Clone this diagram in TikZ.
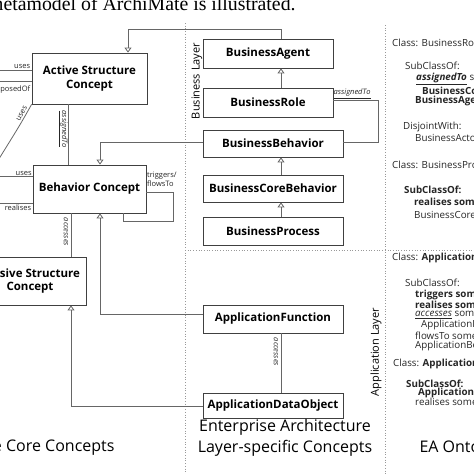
\documentclass[tikz,border=0pt]{standalone}
\usepackage{fontspec}
\setmainfont{Open Sans}
\newfontfamily\timesfont{Liberation Serif}
\usetikzlibrary{arrows.meta,calc}
\begin{document}
\begin{tikzpicture}[x=1pt,y=-1pt,
  box/.style={draw=black!75, line width=0.8pt, fill=white, inner sep=0pt, align=center,
    font=\fontsize{11.5}{13.5}\selectfont\bfseries},
  conn/.style={draw=black!60, line width=0.8pt},
  gen/.style={conn, -{Triangle[open,width=7pt,length=5pt]}},
  lbl/.style={font=\fontsize{7.5}{8.5}\selectfont, inner sep=1pt, text=black!85},
  sep/.style={draw=black!40, dotted, line width=0.7pt},
  layer/.style={font=\fontsize{11}{12}\selectfont, rotate=90},
  captxt/.style={font=\fontsize{16}{21}\selectfont, align=center},
  owl/.style={font=\fontsize{9.8}{10}\selectfont, anchor=west, inner sep=0pt, text=black!85}]
\useasboundingbox (0,0) rectangle (474,474);
\clip (0,0) rectangle (474,474);

% top caption
\node[font=\timesfont\fontsize{19.8}{20}\selectfont, anchor=base west, inner sep=0pt] (topcap) at (-12,10.2) {metamodel of ArchiMate is illustrated.};

% separators
\draw[sep] (185,23) -- (185,474);
\draw[sep] (385,25) -- (385,474);
\draw[sep] (185,250) -- (474,250);

% core concept boxes
\node[box, minimum width=115, minimum height=51] (AS) at (89.5,78.5) {Active Structure\\Concept};
\node[box, minimum width=113, minimum height=48] (BC) at (89.5,189) {Behavior Concept};
\node[box, minimum width=112, minimum height=48] (PS) at (30,281) {Passive Structure\\Concept};

% layer-specific boxes
\node[box, minimum width=130, minimum height=29] (BA) at (268,53.5) {BusinessAgent};
\node[box, minimum width=130, minimum height=29] (BR) at (268,102.5) {BusinessRole};
\node[box, minimum width=140, minimum height=27] (BB) at (273,143.5) {BusinessBehavior};
\node[box, minimum width=140, minimum height=27] (BCB) at (273,188.5) {BusinessCoreBehavior};
\node[box, minimum width=140, minimum height=28] (BP) at (273,231) {BusinessProcess};
\node[box, minimum width=140, minimum height=28] (AF) at (273,319) {ApplicationFunction};
\node[box, minimum width=140, minimum height=25] (ADO) at (273,405.5) {ApplicationDataObject};

% helper coordinates
\coordinate (xa) at (281,0);
\coordinate (xas) at (128,29);
\coordinate (xbc) at (100,0);
\coordinate (xps) at (71,0);
\coordinate (xat) at (68,0);
\coordinate (rr) at (378,100);
\coordinate (lp) at (123,221);
\coordinate (lq) at (173,192);

% generalisations
\draw[gen] (BA.north -| xa) |- (xas) -- (AS.north -| xas);
\draw[gen] (BR.north -| xa) -- (BA.south -| xa);
\draw[gen] (BCB.north -| xa) -- (BB.south -| xa);
\draw[gen] (BP.north -| xa) -- (BCB.south -| xa);
\draw[gen] (BB.west |- 0,142) -| (BC.north -| xbc);
\draw[gen] (AF.west |- 0,314) -| (BC.south -| xbc);
\draw[gen] (ADO.west |- 0,406) -| (PS.south -| xps);

% associations
\draw[conn] (BR.east |- rr) -- (rr) |- (BB.east |- 0,142);
\node[lbl, anchor=south west, inner sep=0.5pt] (l1) at (333,99) {\underline{\textit{assignedTo}}};
\draw[conn] (AF.south -| xa) -- (ADO.north -| xa);
\node[lbl, rotate=-90] (l2) at (276,352) {\textit{accesses}};
\draw[conn] (AS.south -| xat) -- (BC.north -| xat);
\node[lbl, rotate=-90] (l3) at (63,129) {\underline{\textit{assignedTo}}};
\draw[conn] (BC.south -| xps) -- (PS.north -| xps);
\node[lbl, rotate=-90] (l4) at (66,232) {\textit{accesses}};

% self loop
\draw[conn] (BC.east |- lq) -- (lq) |- (lp) -- (BC.south -| lp);
\node[lbl, anchor=north west, align=left, inner sep=0pt] (l5) at (147,172) {triggers/\\flowsTo};

% left stubs
\coordinate (s1) at (-2,70);
\coordinate (s2) at (-2,81);
\coordinate (s3) at (-2,176);
\coordinate (s4) at (-2,203);
\coordinate (s5) at (-3,162);
\draw[conn] (s1) -- (AS.west |- s1) node[lbl, pos=1, anchor=south east] {uses};
\draw[conn] (s2) -- (AS.west |- s2) node[lbl, pos=1, anchor=north east, yshift=-3pt] {composedOf};
\draw[conn] (AS.south west) .. controls (20,125) .. (s5) node[lbl, pos=0.22, sloped, above, inner sep=1.5pt] {uses};
\draw[conn] (s3) -- (BC.west |- s3) node[lbl, pos=1, anchor=south east, inner sep=0.5pt] {uses};
\draw[conn] (s4) -- (BC.west |- s4) node[lbl, pos=1, anchor=north east] {realises};

% layer labels
\node[layer] (lay1) at (197,81) {Business Layer};
\node[layer] (lay2) at (376,352) {Application Layer};

% captions
\node[captxt, anchor=east] (c1) at (118,447) {ArchiMate Core Concepts};
\node[captxt] (c2) at (285,437.5) {Enterprise Architecture\\Layer-specific Concepts};
\node[captxt, anchor=west] (c3) at (416,448) {EA Ontology};

% ontology text
\node[owl] (o1) at (392,43) {Class: BusinessRole};
\node[owl] (o2) at (405,66) {SubClassOf:};
\node[owl] (o3) at (416,79) {\textbf{\underline{\textit{assignedTo}}} some};
\node[owl] (o4) at (422,90.5) {\textbf{BusinessCoreBehavior}};
\node[owl] (o5) at (415,101) {\textbf{BusinessAgent}};
\node[owl] (o6) at (403,127) {DisjointWith:};
\node[owl] (o7) at (415,138) {BusinessActor};

\node[owl] (o8) at (392,165) {Class: BusinessProcess};
\node[owl] (o9) at (404,190) {\textbf{SubClassOf:}};
\node[owl] (o10) at (414,202) {\textbf{realises some}};
\node[owl] (o11) at (414,215) {BusinessCoreBehavior};

\node[owl] (o12) at (392,258) {Class: \textbf{ApplicationFunction}};
\node[owl] (o13) at (405,283) {SubClassOf:};
\node[owl] (o14) at (415,295) {\textbf{triggers some}};
\node[owl] (o15) at (415,305) {\textbf{realises some}};
\node[owl] (o16) at (415,315) {\underline{\textit{accesses}} some};
\node[owl] (o17) at (421,325) {ApplicationDataObject};
\node[owl] (o18) at (415,336) {flowsTo some};
\node[owl] (o19) at (415,346) {ApplicationBehavior};

\node[owl] (o20) at (393,364) {Class: \textbf{ApplicationDataObject}};
\node[owl] (o21) at (406,384) {\textbf{SubClassOf:}};
\node[owl] (o22) at (418,393) {\textbf{ApplicationFunction}};
\node[owl] (o23) at (415,402) {realises some};
\end{tikzpicture}
\end{document}
